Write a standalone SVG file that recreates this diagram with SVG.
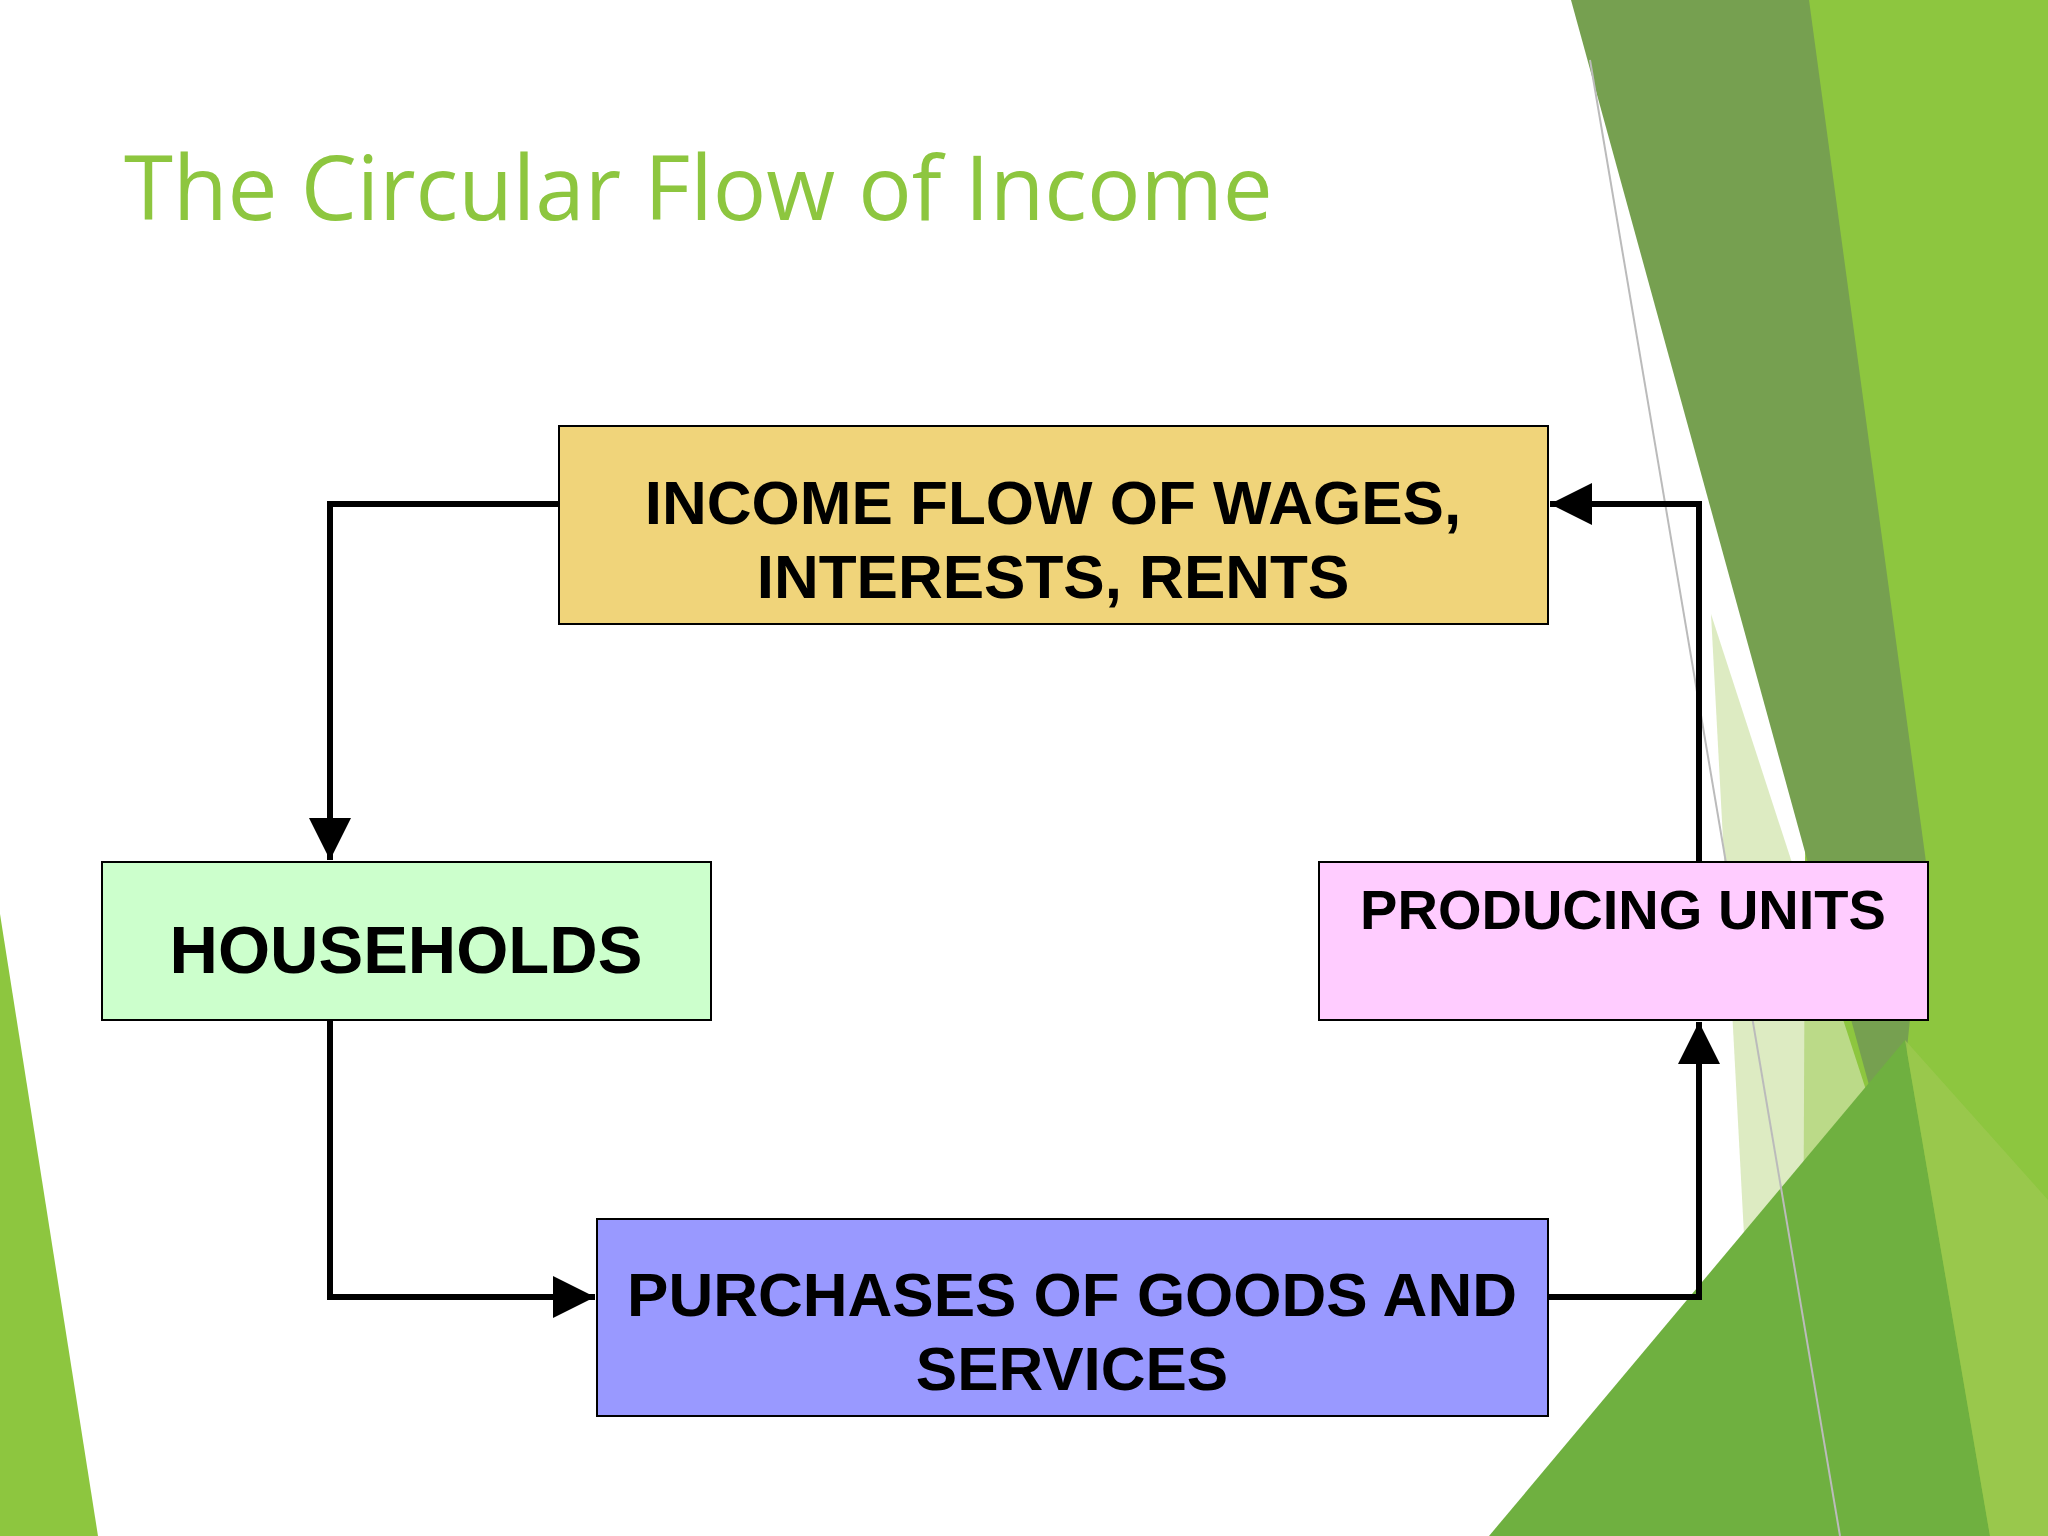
<svg xmlns="http://www.w3.org/2000/svg" width="2048" height="1536" viewBox="0 0 2048 1536">
<defs>
<style>
.box{stroke:#000;stroke-width:2}
.t{font-family:"Liberation Sans",Arial,sans-serif;font-weight:bold;fill:#000;text-anchor:middle}
.c{fill:none;stroke:#000;stroke-width:6}
</style>
<marker id="ah" viewBox="0 0 10 10" refX="10" refY="5" markerWidth="7" markerHeight="7" markerUnits="strokeWidth" orient="auto"><path d="M0,0L10,5L0,10z" fill="#000"/></marker>
</defs>
<rect width="2048" height="1536" fill="#fff"/>
<g id="background">
<polygon points="1809,0 2048,0 2048,1536 1802,1536" fill="#8dc63f"/>
<polygon points="1571,0 1809,0 1926,862 1894,1176" fill="#76a050"/>
<polygon points="1711,614 1894,1176 1860,1536 1760,1536" fill="#cfe3a8" opacity="0.7"/>
<polygon points="1489,1536 1905,1040 1990,1536" fill="#6fb040"/>
<polygon points="1905,1040 2048,1200 2048,1536 1990,1536" fill="#9cc850" opacity="0.8"/>
<polygon points="0,914 98,1536 0,1536" fill="#8dc63f"/>
<line x1="1590" y1="60" x2="1840" y2="1536" stroke="#bbb" stroke-width="2"/>
</g>
<text x="124" y="220" font-family="Open Sans,'Liberation Sans',sans-serif" font-size="89" fill="#8dc63f">The Circular Flow of Income</text>
<g id="connectors">
<polyline class="c" points="559,504 330,504 330,860" marker-end="url(#ah)"/>
<polyline class="c" points="330,1020 330,1297 595,1297" marker-end="url(#ah)"/>
<polyline class="c" points="1548,1297 1699,1297 1699,1022" marker-end="url(#ah)"/>
<polyline class="c" points="1699,862 1699,504 1550,504" marker-end="url(#ah)"/>
</g>
<g id="income"><rect class="box" x="559" y="426" width="989" height="198" fill="#f0d47a"/>
<text class="t" x="1053" y="524" font-size="62">INCOME FLOW OF WAGES,</text>
<text class="t" x="1053" y="598" font-size="62">INTERESTS, RENTS</text></g>
<g id="households"><rect class="box" x="102" y="862" width="609" height="158" fill="#ccffcc"/>
<text class="t" x="406" y="973" font-size="67">HOUSEHOLDS</text></g>
<g id="producing"><rect class="box" x="1319" y="862" width="609" height="158" fill="#ffccff"/>
<text class="t" x="1623" y="929" font-size="56">PRODUCING UNITS</text></g>
<g id="purchases"><rect class="box" x="597" y="1219" width="951" height="197" fill="#9999ff"/>
<text class="t" x="1072" y="1316" font-size="62">PURCHASES OF GOODS AND</text>
<text class="t" x="1072" y="1390" font-size="62">SERVICES</text></g>
</svg>
